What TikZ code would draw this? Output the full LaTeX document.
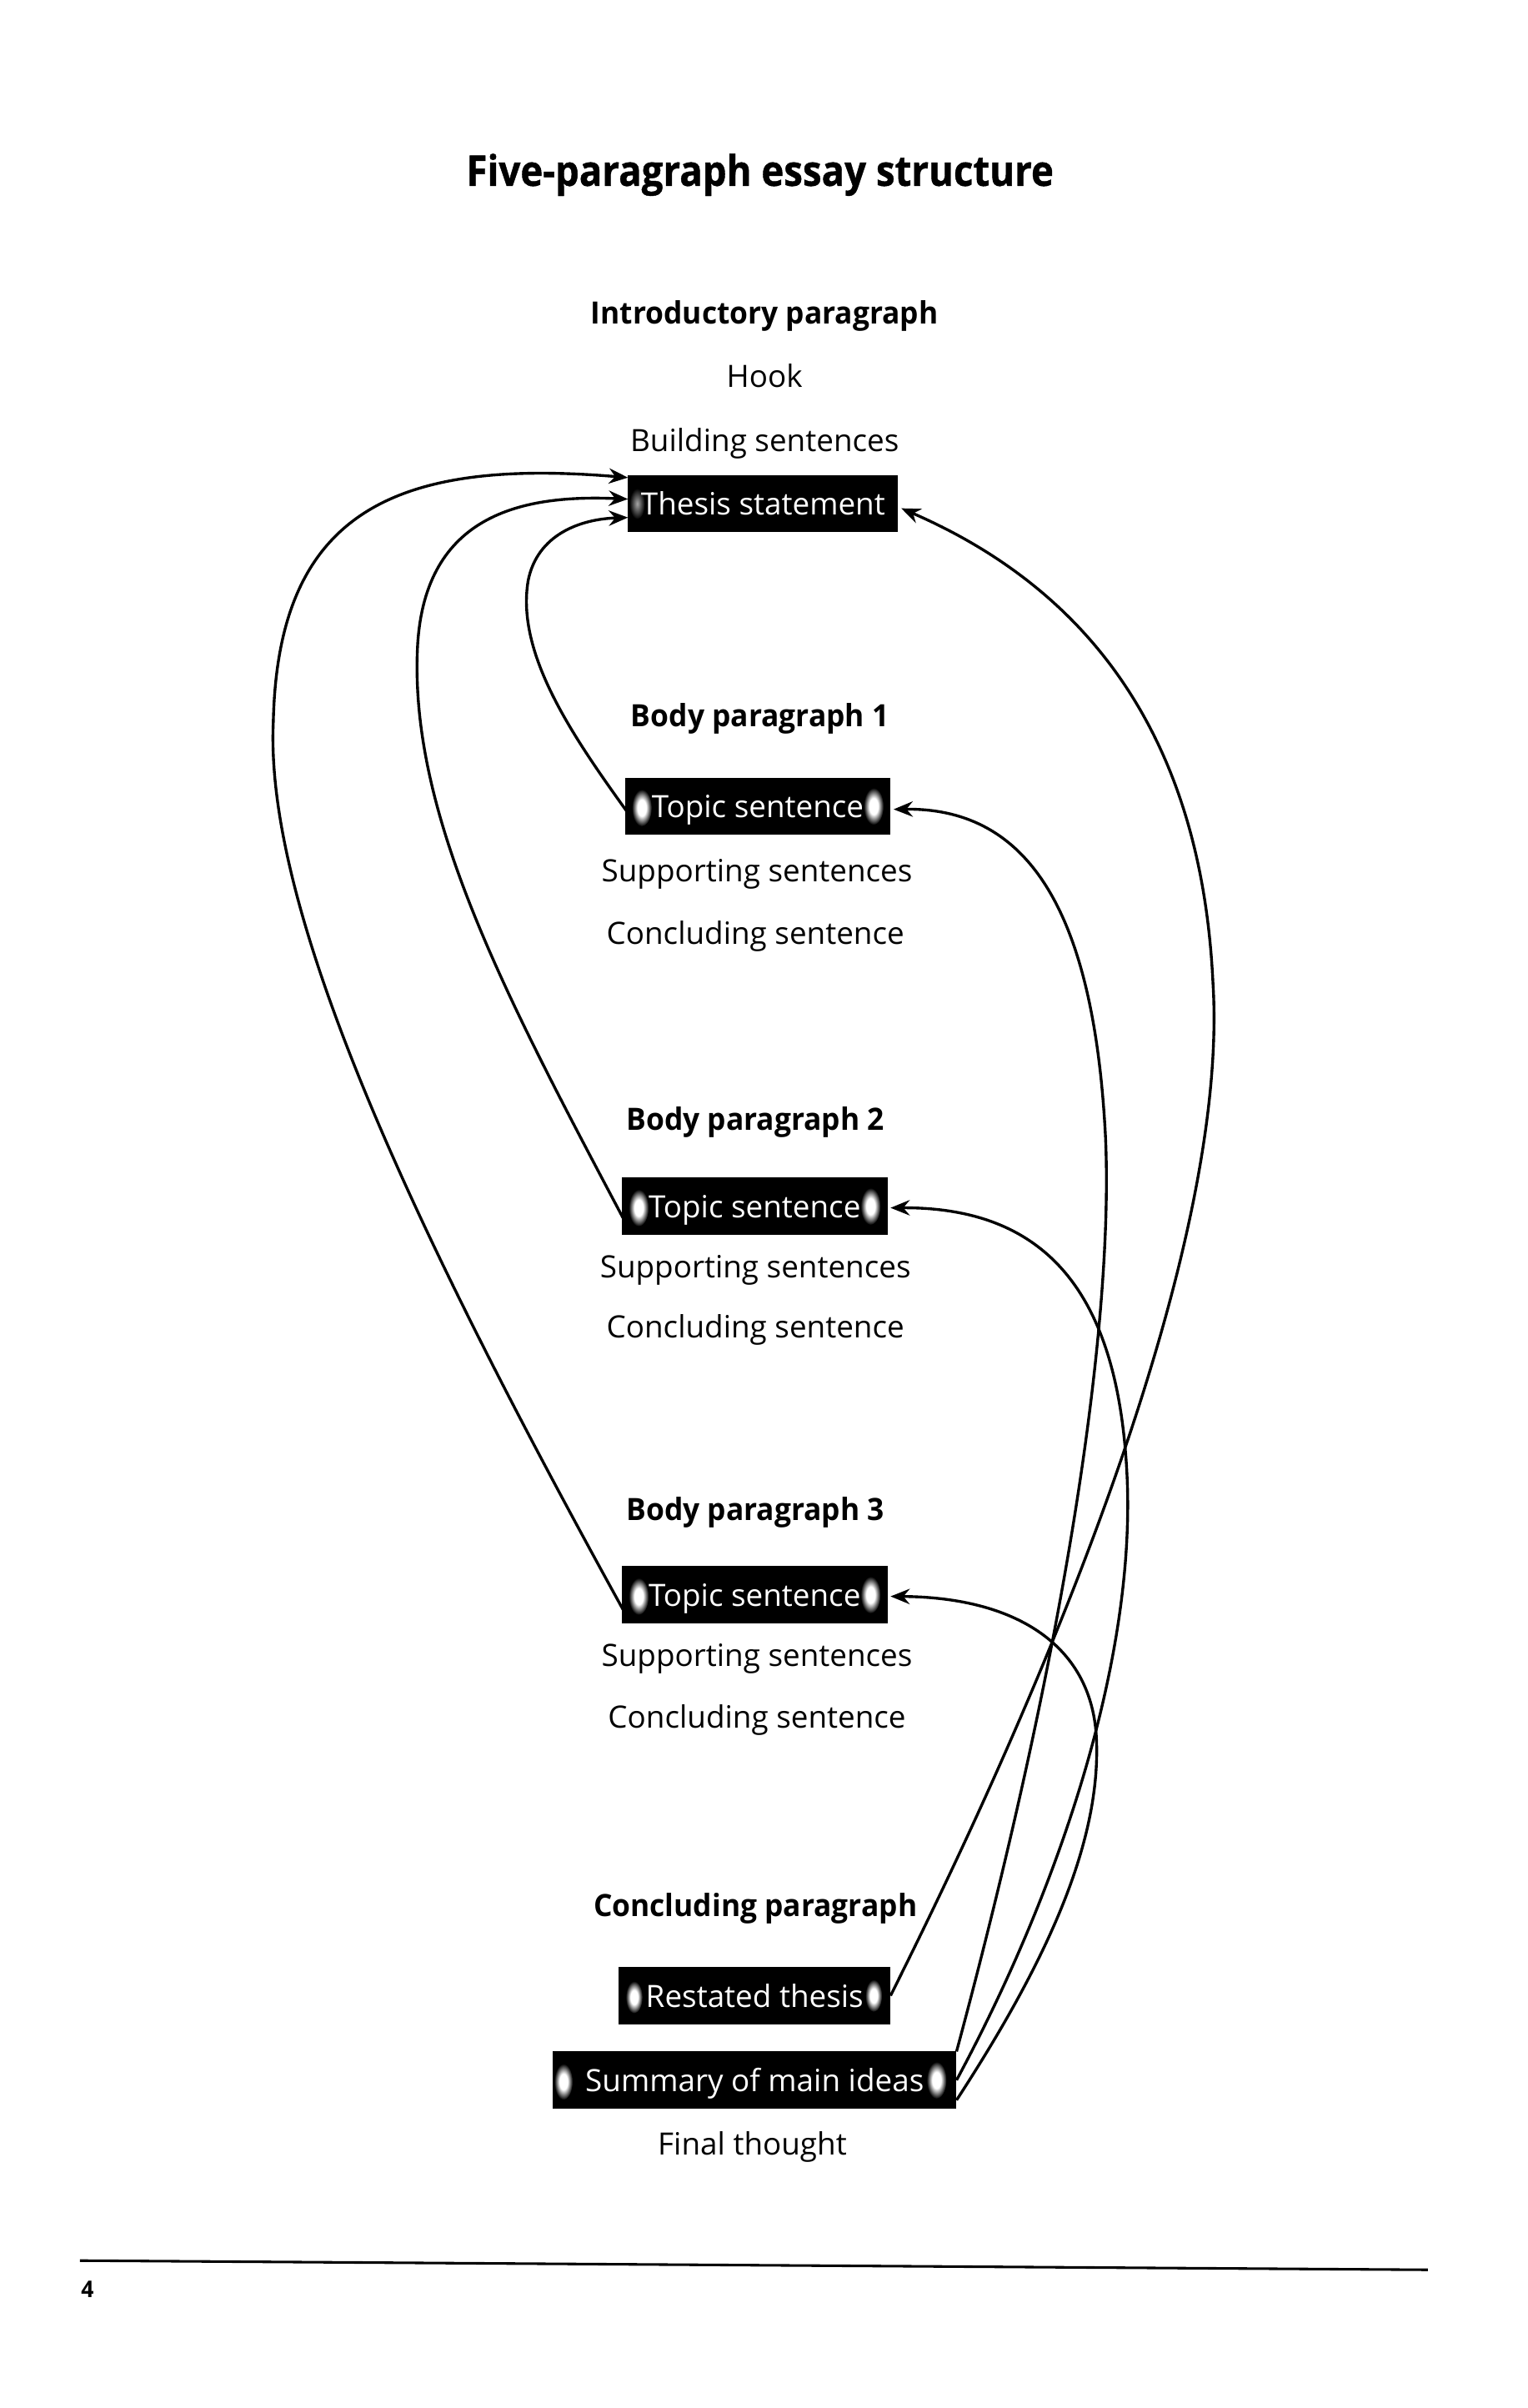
\documentclass[tikz,border=0pt]{standalone}
\usepackage{fontspec}
\setmainfont{Open Sans}
\newfontfamily\headfont[FakeStretch=0.96]{Open Sans}
\newfontfamily\titlefont[FakeStretch=0.9,FakeBold=0.8]{Open Sans}
\usetikzlibrary{arrows.meta,calc}
\pgfdeclarelayer{paper}
\pgfdeclarelayer{background}
\pgfsetlayers{paper,background,main}
\pgfdeclareradialshading{glowsh}{\pgfpoint{0bp}{0bp}}{color(0bp)=(white); color(11bp)=(white); color(25bp)=(black); color(50bp)=(black)}
\pgfdeclareradialshading{dimsh}{\pgfpoint{0bp}{0bp}}{color(0bp)=(gray!70); color(25bp)=(black); color(50bp)=(black)}
\begin{document}
\begin{tikzpicture}[x=0.6pt,y=-0.6pt,
  every node/.style={inner sep=0pt,outer sep=0pt},
  lbl/.style={anchor=base,font=\fontsize{12}{14}\selectfont},
  head/.style={anchor=base,font=\fontsize{12}{14}\selectfont\headfont\bfseries},
  ttl/.style={anchor=base,font=\fontsize{16.5}{19}\selectfont\titlefont\bfseries},
  blackbox/.style={text=white,font=\fontsize{12}{14}\selectfont,
    text height=10pt,text depth=1pt,minimum height=22.4pt},
  glow/.style={shading=glowsh},
  link/.style={line width=1.1pt,-{Stealth[length=7.5pt,width=6pt,inset=2.5pt]}},
  ]
\begin{pgfonlayer}{paper}
  \fill[white] (0,0) rectangle (995,1568);
\end{pgfonlayer}
\useasboundingbox (0,0) rectangle (995,1568);

% titles and labels
\node[ttl] (title) at (495,121) {Five-paragraph essay structure};
\node[head] (intro) at (498,211) {Introductory paragraph};
\node[lbl] (hook) at (498,252) {Hook};
\node[lbl] (build) at (498,294) {Building sentences};
\node[blackbox,minimum width=105.6pt] (thesis) at (497,328) {Thesis statement};

\node[head] (bp1) at (495,473) {Body paragraph 1};
\node[blackbox,minimum width=103.8pt] (t1) at (493.5,525) {Topic sentence};
\node[lbl] (sup1) at (493,574) {Supporting sentences};
\node[lbl] (con1) at (492,615) {Concluding sentence};

\node[head] (bp2) at (492,736) {Body paragraph 2};
\node[blackbox,minimum width=103.8pt] (t2) at (491.5,785.5) {Topic sentence};
\node[lbl] (sup2) at (492,832) {Supporting sentences};
\node[lbl] (con2) at (492,871) {Concluding sentence};

\node[head] (bp3) at (492,990) {Body paragraph 3};
\node[blackbox,minimum width=103.8pt] (t3) at (491.5,1038.5) {Topic sentence};
\node[lbl] (sup3) at (493,1085) {Supporting sentences};
\node[lbl] (con3) at (493,1125) {Concluding sentence};

\node[head] (cp) at (492,1248) {Concluding paragraph};
\node[blackbox,minimum width=106.2pt] (restated) at (491.5,1299.5) {Restated thesis};
\node[blackbox,minimum width=157.8pt] (summary) at (491.5,1354.5) {Summary of main ideas};
\node[lbl] (final) at (490,1403) {Final thought};

% black fills and light spots behind the box texts
\begin{pgfonlayer}{background}
  \foreach \b in {thesis,t1,t2,t3,restated,summary}
    \fill[black] (\b.south west) rectangle (\b.north east);
  \shade[shading=dimsh] ($(thesis.west)+(6,0)$) ellipse [x radius=3pt,y radius=6pt];
  \foreach \b in {t1,t2,t3}{
    \shade[glow] ($(\b.west)+(11,1)$) ellipse [x radius=3.9pt,y radius=7.2pt];
    \shade[glow] ($(\b.east)+(-11,0)$) ellipse [x radius=3.9pt,y radius=7.2pt];
  }
  \shade[glow] ($(restated.west)+(10,1)$) ellipse [x radius=3.3pt,y radius=6.3pt];
  \shade[glow] ($(restated.east)+(-11,0)$) ellipse [x radius=3.3pt,y radius=6.3pt];
  \shade[glow] ($(summary.west)+(7,1)$) ellipse [x radius=3.6pt,y radius=7pt];
  \shade[glow] ($(summary.east)+(-13,0)$) ellipse [x radius=3.9pt,y radius=7.2pt];
\end{pgfonlayer}

% left connectors (to thesis)
\draw[link] ($(t3.west)+(1,10)$) .. controls (280,820) and (172,600) .. (178,470)
  .. controls (181,335) and (255,298) .. ($(thesis.west)+(0,-17)$);
\draw[link] ($(t2.west)+(1,8)$) .. controls (330,650) and (266,530) .. (272,420)
  .. controls (277,335) and (340,322) .. ($(thesis.west)+(0,-3)$);
\draw[link] ($(t1.west)+(1,3)$) .. controls (372,478) and (336,425) .. (344,378)
  .. controls (350,348) and (378,338) .. ($(thesis.west)+(0,9)$);

% right connectors
\draw[link] (restated.east) .. controls (700,1060) and (800,800) .. (790,640)
  .. controls (782,470) and (700,380) .. ($(thesis.east)+(2,3)$);
\draw[link] (summary.north east) .. controls (700,1050) and (725,850) .. (720,740)
  .. controls (712,585) and (665,526) .. ($(t1.east)+(2,2)$);
\draw[link] (summary.east) .. controls (690,1230) and (740,1080) .. (734,960)
  .. controls (728,840) and (680,786) .. ($(t2.east)+(2,1)$);
\draw[link] ($(summary.east)+(0,13)$) .. controls (680,1280) and (718,1200) .. (714,1130)
  .. controls (710,1070) and (660,1040) .. ($(t3.east)+(2,1)$);

% footer
\coordinate (ruleL) at (52,1472);
\coordinate (ruleR) at (930,1478);
\draw[line width=1pt] (ruleL) -- (ruleR);
\node[anchor=base,font=\fontsize{9}{10}\selectfont\headfont\bfseries] (pg) at (57,1496) {4};
\end{tikzpicture}
\end{document}
